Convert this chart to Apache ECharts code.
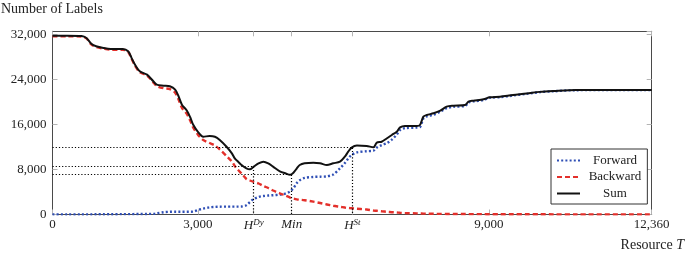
<!DOCTYPE html>
<html>
<head>
<meta charset="utf-8">
<script src="https://cdn.jsdelivr.net/npm/echarts@6/dist/echarts.min.js"></script>
<style>
	html, body {margin: 0; padding: 0; background: #fff;}
	#chart {width: 685px; height: 254px;}
</style>
</head>
<body>
<div id="chart"></div>
<script>
const resource = [
	0, 300, 600, 700, 800, 900, 1050, 1200, 1450, 1560,
	1630, 1700, 1800, 1950, 2080, 2150, 2290, 2420, 2530, 2600,
	2670, 2770, 2840, 2900, 3000, 3110, 3240, 3350, 3450, 3590,
	3700, 3760, 3830, 3900, 4000, 4070, 4150, 4250, 4350, 4450,
	4550, 4700, 4800, 4900, 4970, 5040, 5100, 5200, 5380, 5520,
	5660, 5790, 5930, 6030, 6100, 6170, 6280, 6480, 6620, 6690,
	6790, 6900, 7000, 7100, 7170, 7270, 7510, 7580, 7650, 7720,
	7860, 8000, 8130, 8270, 8510, 8580, 8680, 8890, 9020, 9230,
	9500, 9780, 10050, 10330, 10800, 12360,
];

const forward = [
	30, 30, 30, 30, 30, 40, 40, 50, 60, 60,
	70, 80, 90, 100, 120, 200, 400, 480, 500, 500,
	500, 500, 500, 520, 800, 1050, 1280, 1350, 1390, 1400,
	1400, 1400, 1400, 1420, 1650, 2200, 2750, 3120, 3280, 3370,
	3430, 3530, 3700, 4100, 4700, 5600, 6080, 6500, 6680, 6720,
	6780, 7100, 8200, 9150, 9950, 10600, 11050, 11250, 11350, 11900,
	12350, 12700, 13300, 14200, 15000, 15350, 15450, 15550, 17050, 17450,
	17750, 18300, 18900, 19150, 19300, 19900, 20100, 20350, 20750, 20850,
	21150, 21450, 21750, 21900, 22100, 22120,
];

const backward = [
	31700, 31700, 31650, 31300, 30250, 29800, 29500, 29300, 29300, 28900,
	27700, 26500, 25300, 24700, 23500, 22850, 22450, 22300, 21650, 20450,
	18950, 17900, 16700, 15500, 14200, 13250, 12710, 12270, 11560, 10400,
	9420, 8620, 7910, 7290, 6310, 6045, 5780, 5510, 5070, 4710,
	4270, 3730, 3380, 3020, 2840, 2700, 2630, 2540, 2280, 2040,
	1780, 1550, 1370, 1240, 1160, 1100, 1010, 890, 710, 660,
	570, 480, 410, 360, 300, 250, 200, 180, 160, 150,
	130, 110, 100, 90, 80, 75, 70, 60, 55, 50,
	45, 40, 35, 30, 25, 20,
];

const total = [
	31800, 31800, 31750, 31380, 30350, 29900, 29600, 29430, 29430, 29020,
	27850, 26650, 25460, 24860, 23680, 23080, 22900, 22790, 22190, 21020,
	19520, 18500, 17300, 16000, 14700, 13830, 13960, 13830, 13250, 12050,
	10880, 9990, 9390, 8800, 8210, 8040, 8500, 9100, 9390, 9100,
	8500, 7610, 7330, 7050, 7430, 8210, 8800, 9100, 9210, 9100,
	8800, 9100, 9390, 10280, 11170, 11900, 12250, 12180, 11950, 12770,
	12940, 13550, 14140, 14720, 15500, 15740, 15740, 15910, 17390, 17690,
	17990, 18460, 19170, 19340, 19470, 20060, 20230, 20480, 20840, 20950,
	21250, 21500, 21800, 21960, 22140, 22140,
];

// special resource values marked on the x axis, and the Sum value at each
const markerX = [4150, 4934, 6185];
const markerY = [8500, 7080, 11875];
const markerLabels = ['{i|H}{s|Dy}', '{i|Min}', '{i|H}{s|St}'];

const xTicks = [0, 3000, ...markerX, 9000, 12360];

const xMax = 12360;
const yMax = 32570;

const font = 'Liberation Serif';

function pair(xs, ys) {
	return xs.map((x, i) => [x, ys[i]]);
}

const guideLines = [];
markerX.forEach((x, i) => {
	guideLines.push([{coord: [0, markerY[i]]}, {coord: [x, markerY[i]]}]);
	guideLines.push([{coord: [x, markerY[i]]}, {coord: [x, 0]}]);
});

const tickStyle = {show: true, inside: true, length: 5, lineStyle: {color: '#b4b4b4', width: 1}};
const frameLine = {show: true, onZero: false, lineStyle: {color: '#4a4a4a', width: 1}};

const chart = echarts.init(document.getElementById('chart'), null, {renderer: 'canvas'});

chart.setOption({
	animation: false,
	textStyle: {fontFamily: font},
	grid: {left: 52.5, right: 33.3, top: 31.3, bottom: 39.5},
	legend: {
		data: ['Forward', 'Backward', 'Sum'],
		orient: 'vertical',
		left: 551,
		top: 149,
		padding: [5, 6, 4, 5],
		itemWidth: 23,
		itemHeight: 14,
		itemGap: 3.5,
		backgroundColor: '#fff',
		borderColor: '#333',
		borderWidth: 1,
		borderRadius: 0,
		itemStyle: {color: 'transparent', borderWidth: 0, opacity: 0},
		formatter: name => '{c|' + name + '}',
		textStyle: {
			fontFamily: font,
			fontSize: 13,
			color: '#222',
			rich: {c: {width: 60, align: 'center', fontFamily: font, fontSize: 13, color: '#222'}},
		},
	},
	xAxis: [
		{
			type: 'value',
			min: 0,
			max: xMax,
			position: 'bottom',
			axisLine: frameLine,
			splitLine: {show: false},
			axisTick: {...tickStyle, customValues: xTicks},
			axisLabel: {
				customValues: xTicks,
				margin: 4,
				fontFamily: font,
				fontSize: 13,
				color: '#222',
				formatter: v => {
					const k = markerX.indexOf(v);
					return k >= 0 ? markerLabels[k] : v.toLocaleString('en-US');
				},
				rich: {
					i: {fontFamily: font, fontStyle: 'italic', fontSize: 13, color: '#222'},
					s: {fontFamily: font, fontStyle: 'italic', fontSize: 9, color: '#222', verticalAlign: 'top', padding: [0, 0, 6, 0]},
				},
			},
		},
		{
			type: 'value',
			min: 0,
			max: xMax,
			position: 'top',
			axisLine: frameLine,
			splitLine: {show: false},
			axisTick: {...tickStyle, customValues: xTicks},
			axisLabel: {show: false},
		},
	],
	yAxis: [
		{
			type: 'value',
			min: 0,
			max: yMax,
			interval: 8000,
			position: 'left',
			axisLine: frameLine,
			splitLine: {show: false},
			axisTick: tickStyle,
			axisLabel: {
				margin: 6,
				fontFamily: font,
				fontSize: 13,
				color: '#222',
				showMaxLabel: false,
				formatter: v => (v % 8000 === 0 ? v.toLocaleString('en-US') : ''),
			},
		},
		{
			type: 'value',
			min: 0,
			max: yMax,
			interval: 8000,
			position: 'right',
			axisLine: frameLine,
			splitLine: {show: false},
			axisTick: tickStyle,
			axisLabel: {show: false},
		},
	],
	graphic: [
		{
			type: 'text',
			left: 1,
			top: 2,
			style: {text: 'Number of Labels', font: '14px "Liberation Serif"', fill: '#222'},
		},
		{
			type: 'text',
			right: 1,
			top: 238,
			style: {
				text: '{n|Resource }{i|T}',
				rich: {
					n: {font: '14px "Liberation Serif"', fill: '#222'},
					i: {font: 'italic 14px "Liberation Serif"', fill: '#222'},
				},
			},
		},
	],
	series: [
		{
			name: 'guides',
			type: 'line',
			data: [],
			silent: true,
			markLine: {
				silent: true,
				symbol: 'none',
				label: {show: false},
				lineStyle: {color: '#000', width: 1.2, type: [1.2, 2]},
				emphasis: {disabled: true},
				data: guideLines,
			},
		},
		{
			name: 'Forward',
			type: 'line',
			data: pair(resource, forward),
			symbol: 'none',
			smooth: 0.3,
			color: '#2f4fb5',
			lineStyle: {width: 2.4, type: [2, 2.2], cap: 'butt'},
		},
		{
			name: 'Backward',
			type: 'line',
			data: pair(resource, backward),
			symbol: 'none',
			smooth: 0.3,
			color: '#e3302b',
			lineStyle: {width: 2.4, type: [5, 3], cap: 'butt'},
		},
		{
			name: 'Sum',
			type: 'line',
			data: pair(resource, total),
			symbol: 'none',
			smooth: 0.3,
			color: '#111',
			lineStyle: {width: 2},
		},
	],
});
</script>
</body>
</html>
